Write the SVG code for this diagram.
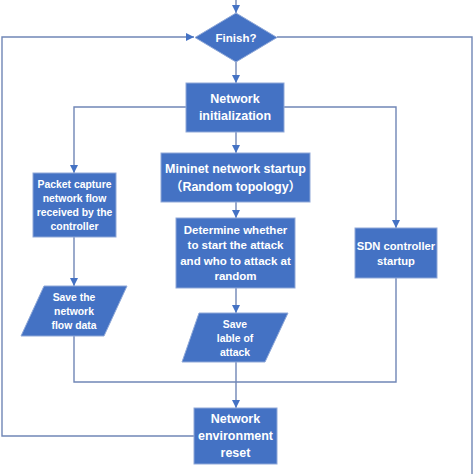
<svg xmlns="http://www.w3.org/2000/svg" width="474" height="474" viewBox="0 0 474 474">
<defs>
<style>
.n{fill:#4472C4;stroke:#8FA8D8;stroke-width:1}
.t{fill:#fff;font-family:"Liberation Sans","Noto Sans CJK SC",sans-serif;font-weight:bold;text-anchor:middle}
.c{fill:none;stroke:#7086B6;stroke-width:1.4}
</style>
<marker id="a" viewBox="0 0 10 10" refX="10" refY="5" markerWidth="8" markerHeight="8" markerUnits="userSpaceOnUse" orient="auto">
<path d="M0,0 L10,5 L0,10 z" fill="#4472C4"/>
</marker>
</defs>
<rect width="474" height="474" fill="#fff"/>
<g id="connectors">
<path class="c" d="M236,0 V13" marker-end="url(#a)"/>
<path class="c" d="M236,62 V83" marker-end="url(#a)"/>
<path class="c" d="M236,132 V153" marker-end="url(#a)"/>
<path class="c" d="M236,202 V218" marker-end="url(#a)"/>
<path class="c" d="M236,288 V313" marker-end="url(#a)"/>
<path class="c" d="M236,362 V408" marker-end="url(#a)"/>
<path class="c" d="M186,107 H74 V173" marker-end="url(#a)"/>
<path class="c" d="M74,237 V286" marker-end="url(#a)"/>
<path class="c" d="M284,107 H396 V228" marker-end="url(#a)"/>
<path class="c" d="M74,336 V382 H396 V278"/>
<path class="c" d="M194,436 H2 V37 H194" marker-end="url(#a)"/>
<path class="c" d="M277,37 H472 V474"/>
</g>
<g id="finish">
<polygon class="n" points="236,13 277,37.5 236,62 195,37.5"/>
<text class="t" x="236" y="41.5" font-size="11.5">Finish?</text>
</g>
<g id="init">
<rect class="n" x="186" y="83" width="98" height="49"/>
<text class="t" font-size="12.5"><tspan x="235" y="103">Network</tspan><tspan x="235" y="120">initialization</tspan></text>
</g>
<g id="mininet">
<rect class="n" x="161" y="153" width="149" height="49"/>
<text class="t" font-size="12.5"><tspan x="235.5" y="172.5">Mininet network startup</tspan><tspan x="235.5" y="190.5">（Random topology）</tspan></text>
</g>
<g id="determine">
<rect class="n" x="176" y="218" width="119" height="70"/>
<text class="t" font-size="11.5"><tspan x="235.5" y="234">Determine whether</tspan><tspan x="235.5" y="249.3">to start the attack</tspan><tspan x="235.5" y="264.6">and who to attack at</tspan><tspan x="235.5" y="280">random</tspan></text>
</g>
<g id="packet">
<rect class="n" x="33" y="173" width="83" height="64"/>
<text class="t" font-size="10.4"><tspan x="74.5" y="187.5">Packet capture</tspan><tspan x="74.5" y="201.5">network flow</tspan><tspan x="74.5" y="215.5">received by the</tspan><tspan x="74.5" y="229.5">controller</tspan></text>
</g>
<g id="saveflow">
<polygon class="n" points="44,286 127,286 104,336 21,336"/>
<text class="t" font-size="10.4"><tspan x="74" y="300.5">Save the</tspan><tspan x="74" y="314.5">network</tspan><tspan x="74" y="328.5">flow data</tspan></text>
</g>
<g id="sdn">
<rect class="n" x="355" y="228" width="82" height="50"/>
<text class="t" font-size="11.2"><tspan x="396" y="250">SDN controller</tspan><tspan x="396" y="265">startup</tspan></text>
</g>
<g id="savelabel">
<polygon class="n" points="199,313 288,313 265,362 182,362"/>
<text class="t" font-size="10.4"><tspan x="235" y="327.5">Save</tspan><tspan x="235" y="341.5">lable of</tspan><tspan x="235" y="355.5">attack</tspan></text>
</g>
<g id="reset">
<rect class="n" x="194" y="408" width="83" height="56"/>
<text class="t" font-size="12.5"><tspan x="235.5" y="422.5">Network</tspan><tspan x="235.5" y="439.5">environment</tspan><tspan x="235.5" y="456.5">reset</tspan></text>
</g>
</svg>
